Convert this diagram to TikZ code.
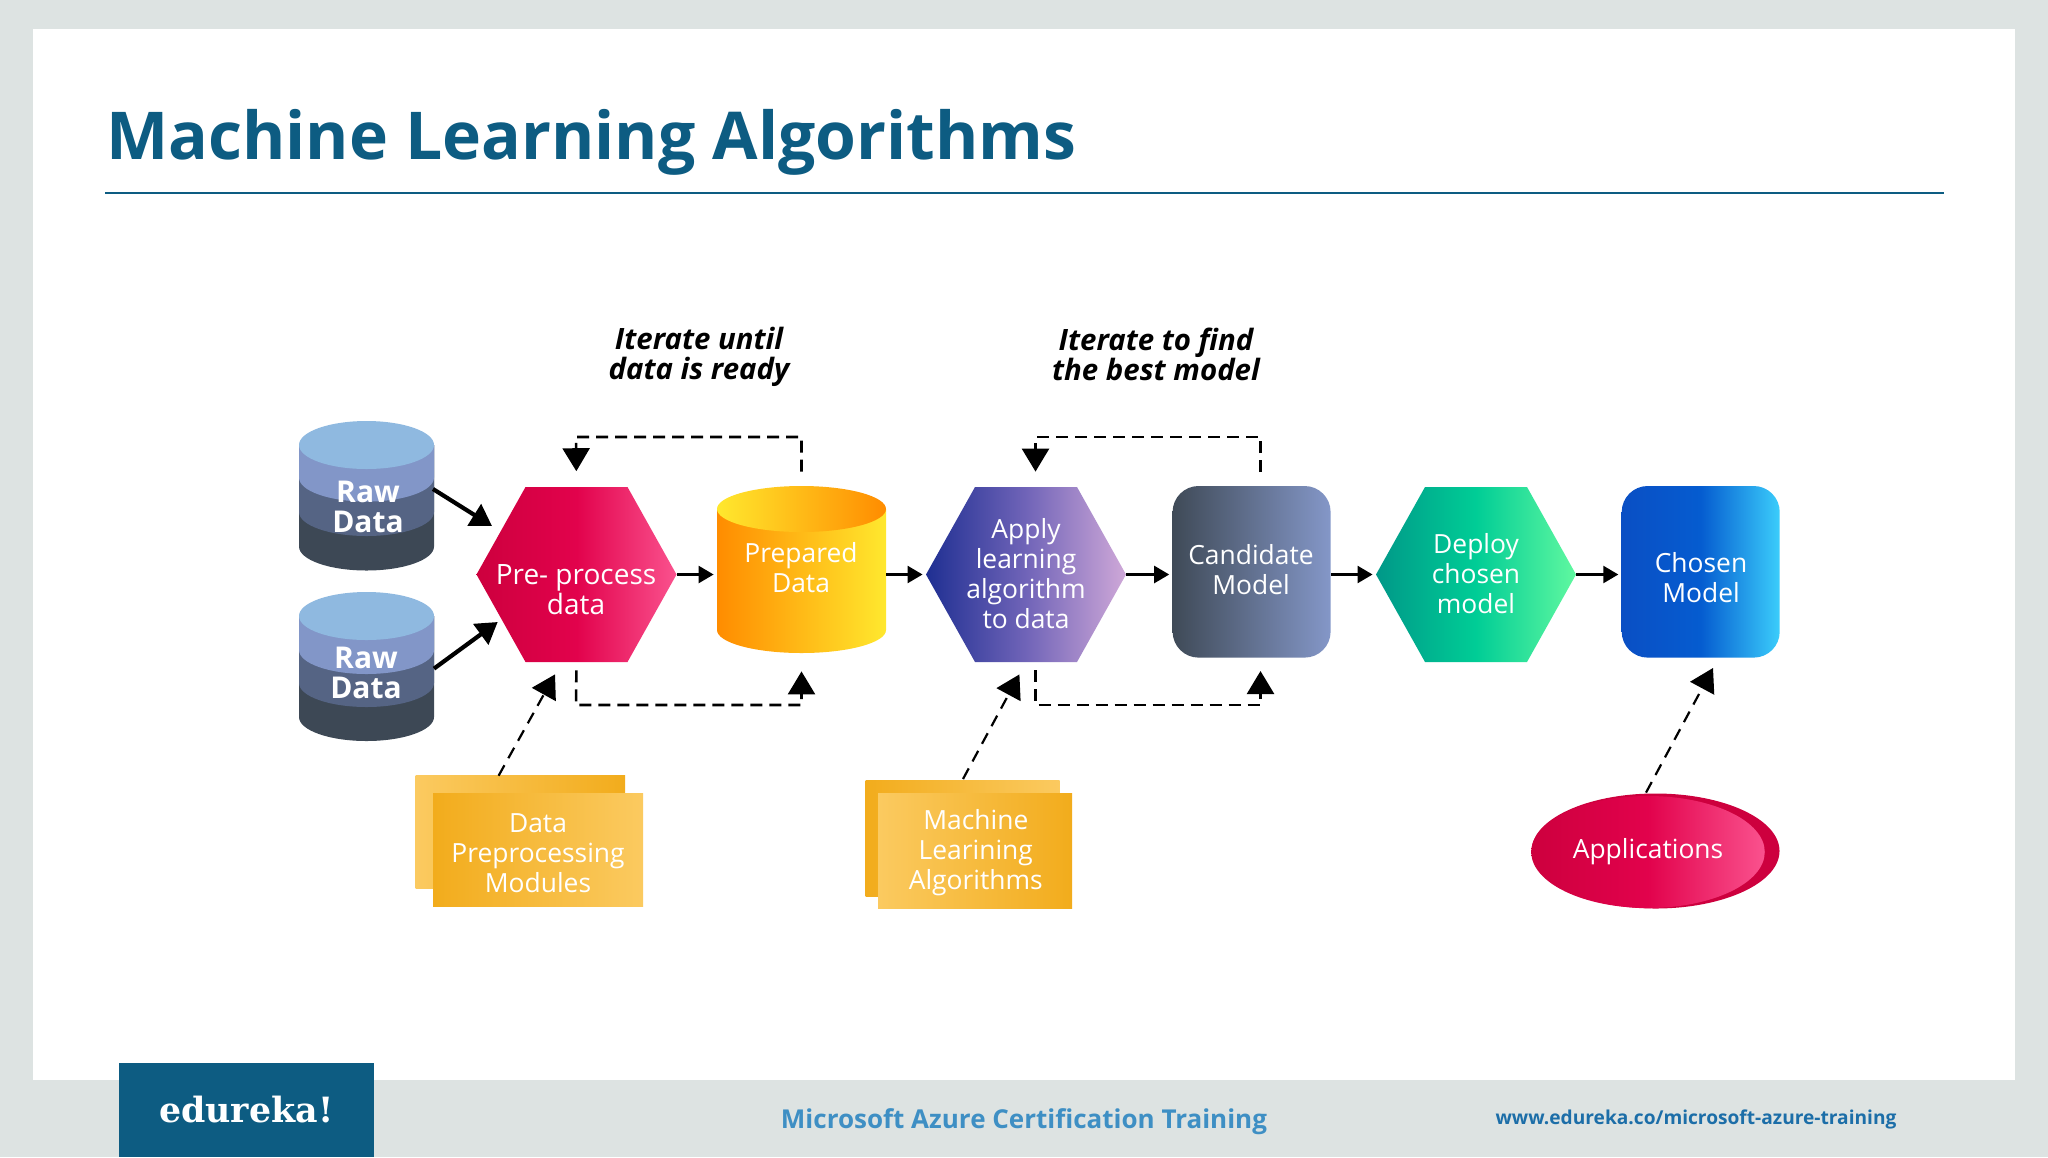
\documentclass[tikz,border=0pt]{standalone}
\usepackage{fontspec}
\setmainfont{Open Sans}
\newfontfamily\logofont{DejaVu Serif}
\usetikzlibrary{arrows.meta, positioning, shapes.geometric, shapes.symbols, calc}
\definecolor{framegray}{RGB}{221,227,226}
\definecolor{titleblue}{RGB}{13,92,130}
\definecolor{trainblue}{RGB}{62,143,196}
\definecolor{linkblue}{RGB}{28,110,168}
\definecolor{topblue}{RGB}{143,185,224}
\definecolor{bandblue}{RGB}{130,150,200}
\definecolor{bandslate}{RGB}{85,100,132}
\definecolor{banddark}{RGB}{61,72,85}
\definecolor{crimsonleft}{RGB}{205,0,62}
\definecolor{crimsonmid}{RGB}{226,2,76}
\definecolor{crimsonright}{RGB}{250,82,142}
\definecolor{orangedeep}{RGB}{255,140,0}
\definecolor{yellowlit}{RGB}{255,232,46}
\definecolor{indigoleft}{RGB}{31,47,146}
\definecolor{indigomid}{RGB}{112,100,184}
\definecolor{indigoright}{RGB}{207,168,216}
\definecolor{slateleft}{RGB}{63,74,87}
\definecolor{slateright}{RGB}{132,151,200}
\definecolor{tealleft}{RGB}{0,152,136}
\definecolor{tealmid}{RGB}{0,205,150}
\definecolor{tealright}{RGB}{96,248,160}
\definecolor{royalleft}{RGB}{10,79,196}
\definecolor{royalmid}{RGB}{5,92,208}
\definecolor{royalright}{RGB}{59,205,251}
\definecolor{folderdark}{RGB}{242,172,28}
\definecolor{folderlit}{RGB}{251,202,96}
\tikzset{
  hexbox/.style={signal, signal to=east and west, signal pointer angle=121.5,
    minimum width=100pt, minimum height=87.5pt, inner sep=0pt},
  roundbox/.style={rectangle, rounded corners=13pt, minimum width=79pt, minimum height=85.8pt, inner sep=0pt},
  folderbox/.style={rectangle, inner sep=0pt},
  holder/.style={rectangle, inner sep=0pt},
  lbl/.style={text=white, align=center, font=\fontsize{13.2}{15}\selectfont},
  rawlbl/.style={text=white, align=center, font=\fontsize{15}{15}\selectfont\bfseries},
  iterlbl/.style={text=black, align=center, font=\fontsize{14.7}{15}\selectfont\bfseries\itshape},
  flow/.style={-{Triangle[length=7.5pt,width=8.5pt]}, line width=1.2pt, shorten >=1.5pt},
  rawflow/.style={-{Triangle[length=10.5pt,width=12.5pt]}, line width=2.1pt},
  loopedge/.style={-{Triangle[length=11.5pt,width=13.5pt]}, line width=1.3pt, dash pattern=on 6pt off 3.5pt},
  feededge/.style={-{Triangle[length=11.5pt,width=13.5pt]}, line width=1.1pt, dash pattern=on 6pt off 4pt},
}

\begin{document}
\begin{tikzpicture}[x=0.5pt,y=-0.5pt]
        \useasboundingbox (0,0) rectangle (2048,1157);
        \fill[framegray] (0,0) rectangle (2048,1157);
        \fill[white] (33,29) rectangle (2015,1080);

        \node[anchor=west, inner sep=0pt, text=titleblue, font=\fontsize{33}{36}\selectfont\bfseries] (title) at (106,142) {Machine Learning Algorithms};
        \coordinate (ruleleft) at (105,193);
        \coordinate (ruleright) at (1944,193);
        \draw[titleblue, line width=0.8pt] (ruleleft) -- (ruleright);

        % raw data stacks
        \fill[banddark] (299,445) -- (299,546.5) arc[start angle=180, end angle=0, x radius=67.5, y radius=24] -- (434,445) -- cycle;
        \fill[bandslate] (299,445) -- (299,512) arc[start angle=180, end angle=0, x radius=67.5, y radius=24] -- (434,445) -- cycle;
        \fill[bandblue] (299,445) -- (299,477.6) arc[start angle=180, end angle=0, x radius=67.5, y radius=24] -- (434,445) -- cycle;
        \fill[topblue] (366.5,445) ellipse[x radius=67.5, y radius=24];
        \fill[banddark] (299,616) -- (299,717) arc[start angle=180, end angle=0, x radius=67.5, y radius=24] -- (434,616) -- cycle;
        \fill[bandslate] (299,616) -- (299,683) arc[start angle=180, end angle=0, x radius=67.5, y radius=24] -- (434,616) -- cycle;
        \fill[bandblue] (299,616) -- (299,650) arc[start angle=180, end angle=0, x radius=67.5, y radius=24] -- (434,616) -- cycle;
        \fill[topblue] (366.5,616) ellipse[x radius=67.5, y radius=24];
        \node[rawlbl] (raw1) at (368,507) {Raw\\Data};
        \node[rawlbl] (raw2) at (366,673) {Raw\\Data};

        % prepared data drum
        \shade[left color=orangedeep, right color=yellowlit] (717,509) -- (717,630) arc[start angle=180, end angle=0, x radius=84.5, y radius=23] -- (886,509) -- cycle;
        \shade[left color=yellowlit, right color=orangedeep] (801.5,509) ellipse[x radius=84.5, y radius=23];
        \node[holder, minimum width=84.5pt, minimum height=83.5pt] (prepared) at (801.5,569.5) {};
        \node[lbl] (preparedtxt) at (801,568) {Prepared\\Data};

        % process row
        \node[hexbox, left color=crimsonleft, right color=crimsonright, middle color=crimsonmid] (pre) at (576.5,574.5) {};
        \node[lbl, font=\fontsize{14}{15}\selectfont] (pretxt) at (576,590) {Pre- process\\data};
        \node[hexbox, left color=indigoleft, right color=indigoright, middle color=indigomid] (apply) at (1026,574.5) {};
        \node[lbl] (applytxt) at (1026,574) {Apply\\learning\\algorithm\\to data};
        \node[roundbox, left color=slateleft, right color=slateright] (candidate) at (1251.6,571.8) {};
        \node[lbl] (candidatetxt) at (1251,570) {Candidate\\Model};
        \node[hexbox, left color=tealleft, right color=tealright, middle color=tealmid] (deploy) at (1476,574.5) {};
        \node[lbl] (deploytxt) at (1476,574) {Deploy\\chosen\\model};
        \node[roundbox, left color=royalleft, right color=royalright, middle color=royalmid] (chosen) at (1700.7,571.8) {};
        \node[lbl] (chosentxt) at (1701,578) {Chosen\\Model};

        % folders and applications
        \node[folderbox, minimum width=104.75pt, minimum height=56.6pt, left color=folderlit, right color=folderdark] (modback) at (520.25,832.3) {};
        \node[folderbox, minimum width=105pt, minimum height=56.5pt, left color=folderdark, right color=folderlit] (modfront) at (538,849.5) {};
        \node[lbl] (modtxt) at (538,853) {Data\\Preprocessing\\Modules};
        \node[folderbox, minimum width=97pt, minimum height=57.75pt, left color=folderdark, right color=folderlit] (algback) at (962.5,838.25) {};
        \node[folderbox, minimum width=97pt, minimum height=57.8pt, left color=folderlit, right color=folderdark] (algfront) at (975,850.8) {};
        \node[lbl] (algtxt) at (975.8,852.6) {Machine\\Learining\\Algorithms};
        \node[ellipse, fill=crimsonleft, minimum width=124pt, minimum height=57.5pt, inner sep=0pt] (appback) at (1655.5,851) {};
        \node[ellipse, left color=crimsonleft, right color=crimsonright, middle color=crimsonmid, minimum width=116.75pt, minimum height=56pt, inner sep=0pt, text=white, font=\fontsize{13.2}{15}\selectfont] (app) at (1648,852) {Applications};

        % free ends
        \coordinate (raw1out) at (433,489);
        \coordinate (raw1in) at (492,526);
        \coordinate (raw2out) at (434,668.6);
        \coordinate (raw2in) at (497.7,622);
        \coordinate (looptopa) at (576,437);
        \coordinate (loopbota) at (576,705);
        \coordinate (looptopb) at (1035.5,437);
        \coordinate (loopbotb) at (1035.5,705);
        \coordinate (candtop) at (1260.5,486);
        \coordinate (candbot) at (1260.5,657.6);
        \coordinate (applytop) at (1035.5,487);
        \coordinate (applybot) at (1035.5,662);
        \coordinate (modout) at (498.6,775.7);
        \coordinate (modin) at (555,674.4);
        \coordinate (algout) at (963,779);
        \coordinate (algin) at (1019.4,674.4);
        \coordinate (appout) at (1646,792.6);
        \coordinate (appin) at (1713,668);

        \draw[rawflow] (raw1out) -- (raw1in);
        \draw[rawflow] (raw2out) -- (raw2in);
        \draw[flow] (pre.east) -- (pre.east -| prepared.west);
        \draw[flow] (pre.east -| prepared.east) -- (pre.east -| apply.west);
        \draw[flow] (apply.east) -- (apply.east -| candidate.west);
        \draw[flow] (apply.east -| candidate.east) -- (deploy.west);
        \draw[flow] (deploy.east) -- (deploy.east -| chosen.west);

        \draw[loopedge, shorten <=7pt, shorten >=7.7pt] (prepared.north) |- (looptopa) -- (pre.north);
        \draw[loopedge, shorten <=4pt, shorten >=9pt] (pre.south) -- (loopbota) -| (prepared.south);
        \draw[loopedge, shorten <=7pt, shorten >=7.7pt] (candtop) |- (looptopb) -- (applytop);
        \draw[loopedge, shorten <=4pt, shorten >=6.7pt] (applybot) -- (loopbotb) -| (candbot);
        \draw[feededge] (modout) -- (modin);
        \draw[feededge] (algout) -- (algin);
        \draw[feededge] (appout) -- (appin);

        \node[iterlbl] (itera) at (699,357) {Iterate until\\data is ready};
        \node[iterlbl] (iterb) at (1156,354.5) {Iterate to find\\the best model};

        % footer
        \node[rectangle, fill=titleblue, minimum width=127.25pt, minimum height=47pt, inner sep=0pt, text=white, font=\logofont\fontsize{17.4}{20}\selectfont\bfseries] (logo) at (246.25,1110) {edureka!};
        \node[text=trainblue, font=\fontsize{13}{16}\selectfont\bfseries] (training) at (1024,1121.5) {Microsoft Azure Certification Training};
        \node[text=linkblue, font=\fontsize{9.57}{12}\selectfont\bfseries] (link) at (1696,1119) {www.edureka.co/microsoft-azure-training};
    \end{tikzpicture}
\end{document}
